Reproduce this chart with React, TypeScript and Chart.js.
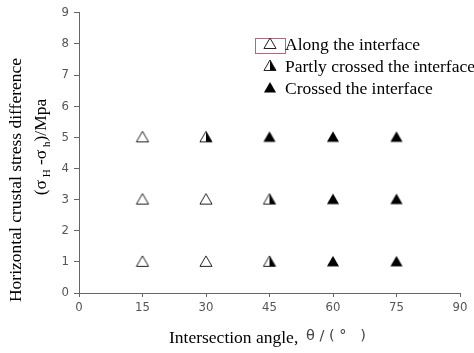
import React, { useEffect, useRef } from 'react';
import { Chart, registerables } from 'chart.js';
Chart.register(...registerables);

const xTickValues = [0, 15, 30, 45, 60, 75, 90];
const yTickValues = [0, 1, 2, 3, 4, 5, 6, 7, 8, 9];

const alongX = [15, 15, 15, 30, 30];
const alongY = [1, 3, 5, 1, 3];
const partlyX = [30, 45, 45];
const partlyY = [5, 1, 3];
const crossedX = [45, 60, 60, 60, 75, 75, 75];
const crossedY = [5, 1, 3, 5, 1, 3, 5];

const seriesLabels = ['Along the interface', 'Partly crossed the interface', 'Crossed the interface'];
const xTitleMain = 'Intersection angle,';
const xTitleUnit = 'θ / ( °   )';
const yTitleLine1 = 'Horizontal crustal stress difference';

function makeMarker(kind: 'open' | 'half' | 'full'): HTMLCanvasElement {
  const c = document.createElement('canvas');
  c.width = 16;
  c.height = 16;
  const ctx = c.getContext('2d')!;
  const cx = 8, cy = 9, r = 7;
  const pts: [number, number][] = [];
  for (let i = 0; i < 3; i++) {
    const a = (i * 2 * Math.PI) / 3;
    pts.push([cx + Math.sin(a) * r, cy - Math.cos(a) * r]);
  }
  const tri = () => {
    ctx.beginPath();
    ctx.moveTo(pts[0][0], pts[0][1]);
    ctx.lineTo(pts[1][0], pts[1][1]);
    ctx.lineTo(pts[2][0], pts[2][1]);
    ctx.closePath();
  };
  tri();
  if (kind === 'full') {
    ctx.fillStyle = '#000';
    ctx.fill();
  } else {
    ctx.fillStyle = '#fff';
    ctx.fill();
    if (kind === 'half') {
      ctx.beginPath();
      ctx.moveTo(pts[0][0], pts[0][1]);
      ctx.lineTo(pts[1][0], pts[1][1]);
      ctx.lineTo(cx, pts[1][1]);
      ctx.closePath();
      ctx.fillStyle = '#000';
      ctx.fill();
    }
    tri();
    ctx.strokeStyle = '#222';
    ctx.lineWidth = 1;
    ctx.stroke();
  }
  return c;
}

export default function App() {
  const ref = useRef<HTMLCanvasElement | null>(null);
  useEffect(() => {
    if (!ref.current) return;
    const markers = [makeMarker('open'), makeMarker('half'), makeMarker('full')];
    const toPts = (xs: number[], ys: number[]) => xs.map((x, i) => ({ x, y: ys[i] }));
    const serif = '"Liberation Serif", "Times New Roman", serif';

    const overlay = {
      id: 'overlay',
      afterDraw(chart: any) {
        const ctx = chart.ctx as CanvasRenderingContext2D;
        ctx.save();
        // legend
        const ly = [44, 66, 88];
        ctx.strokeStyle = '#c0607a';
        ctx.lineWidth = 1;
        ctx.strokeRect(255.5, 38.5, 30, 15);
        ctx.font = '17.5px ' + serif;
        ctx.fillStyle = '#000';
        ctx.textBaseline = 'middle';
        ctx.textAlign = 'left';
        seriesLabels.forEach((lab, i) => {
          const m = markers[i];
          ctx.drawImage(m, 270 - m.width / 2, ly[i] - m.height / 2);
          ctx.fillText(lab, 285, ly[i] + 1);
        });
        // x title
        ctx.textAlign = 'left';
        ctx.fillText(xTitleMain, 169, 338);
        ctx.font = '14.5px "DejaVu Sans", sans-serif';
        ctx.fillStyle = '#444';
        ctx.fillText(xTitleUnit, 306, 336);
        ctx.fillStyle = '#000';
        // y title line 1
        ctx.save();
        ctx.font = '17.5px ' + serif;
        ctx.translate(16, 180);
        ctx.rotate(-Math.PI / 2);
        ctx.textAlign = 'center';
        ctx.fillText(yTitleLine1, 0, 0);
        ctx.restore();
        // y title line 2 with subscripts
        ctx.save();
        ctx.translate(41, 147);
        ctx.rotate(-Math.PI / 2);
        ctx.textAlign = 'left';
        const mainFont = '17.5px ' + serif;
        const subFont = '11px ' + serif;
        const parts: [string, boolean][] = [['(σ', false], [' H', true], [' -σ', false], [' h', true], [')/Mpa', false]];
        let total = 0;
        parts.forEach(([t, sub]) => {
          ctx.font = sub ? subFont : mainFont;
          total += ctx.measureText(t).width;
        });
        let x = -total / 2;
        parts.forEach(([t, sub]) => {
          ctx.font = sub ? subFont : mainFont;
          ctx.fillText(t, x, sub ? 6 : 0);
          x += ctx.measureText(t).width;
        });
        ctx.restore();
        ctx.restore();
      },
    };

    const tickFont = { family: '"Liberation Sans Narrow", "DejaVu Sans Condensed", "Liberation Sans", sans-serif', size: 13 };
    const chart = new Chart(ref.current, {
      type: 'scatter',
      data: {
        datasets: [
          { label: seriesLabels[0], data: toPts(alongX, alongY), pointStyle: markers[0] as any },
          { label: seriesLabels[1], data: toPts(partlyX, partlyY), pointStyle: markers[1] as any },
          { label: seriesLabels[2], data: toPts(crossedX, crossedY), pointStyle: markers[2] as any },
        ],
      },
      options: {
        animation: false,
        responsive: false,
        layout: { padding: { top: 12, right: 14, left: 0, bottom: 0 } },
        plugins: { legend: { display: false }, tooltip: { enabled: false } },
        scales: {
          x: {
            type: 'linear',
            min: 0,
            max: 90,
            afterBuildTicks: (s: any) => { s.ticks = xTickValues.map((v) => ({ value: v })); },
            afterFit: (s: any) => { s.height = 60; },
            ticks: { color: '#555', font: tickFont, padding: 3 },
            grid: { drawOnChartArea: false, drawTicks: true, tickLength: 4, color: '#666' },
            border: { color: '#666' },
          },
          y: {
            type: 'linear',
            min: 0,
            max: 9,
            afterBuildTicks: (s: any) => { s.ticks = yTickValues.map((v) => ({ value: v })); },
            afterFit: (s: any) => { s.width = 79; },
            ticks: { color: '#555', font: tickFont, padding: 5 },
            grid: { drawOnChartArea: false, drawTicks: true, tickLength: 5, color: '#666' },
            border: { color: '#666' },
          },
        },
      },
      plugins: [overlay],
    });
    return () => chart.destroy();
  }, []);
  return (
    <div style={{ position: 'fixed', left: 0, top: 0, width: 474, height: 353, background: '#fff' }}>
      <canvas ref={ref} width={474} height={353} />
    </div>
  );
}
